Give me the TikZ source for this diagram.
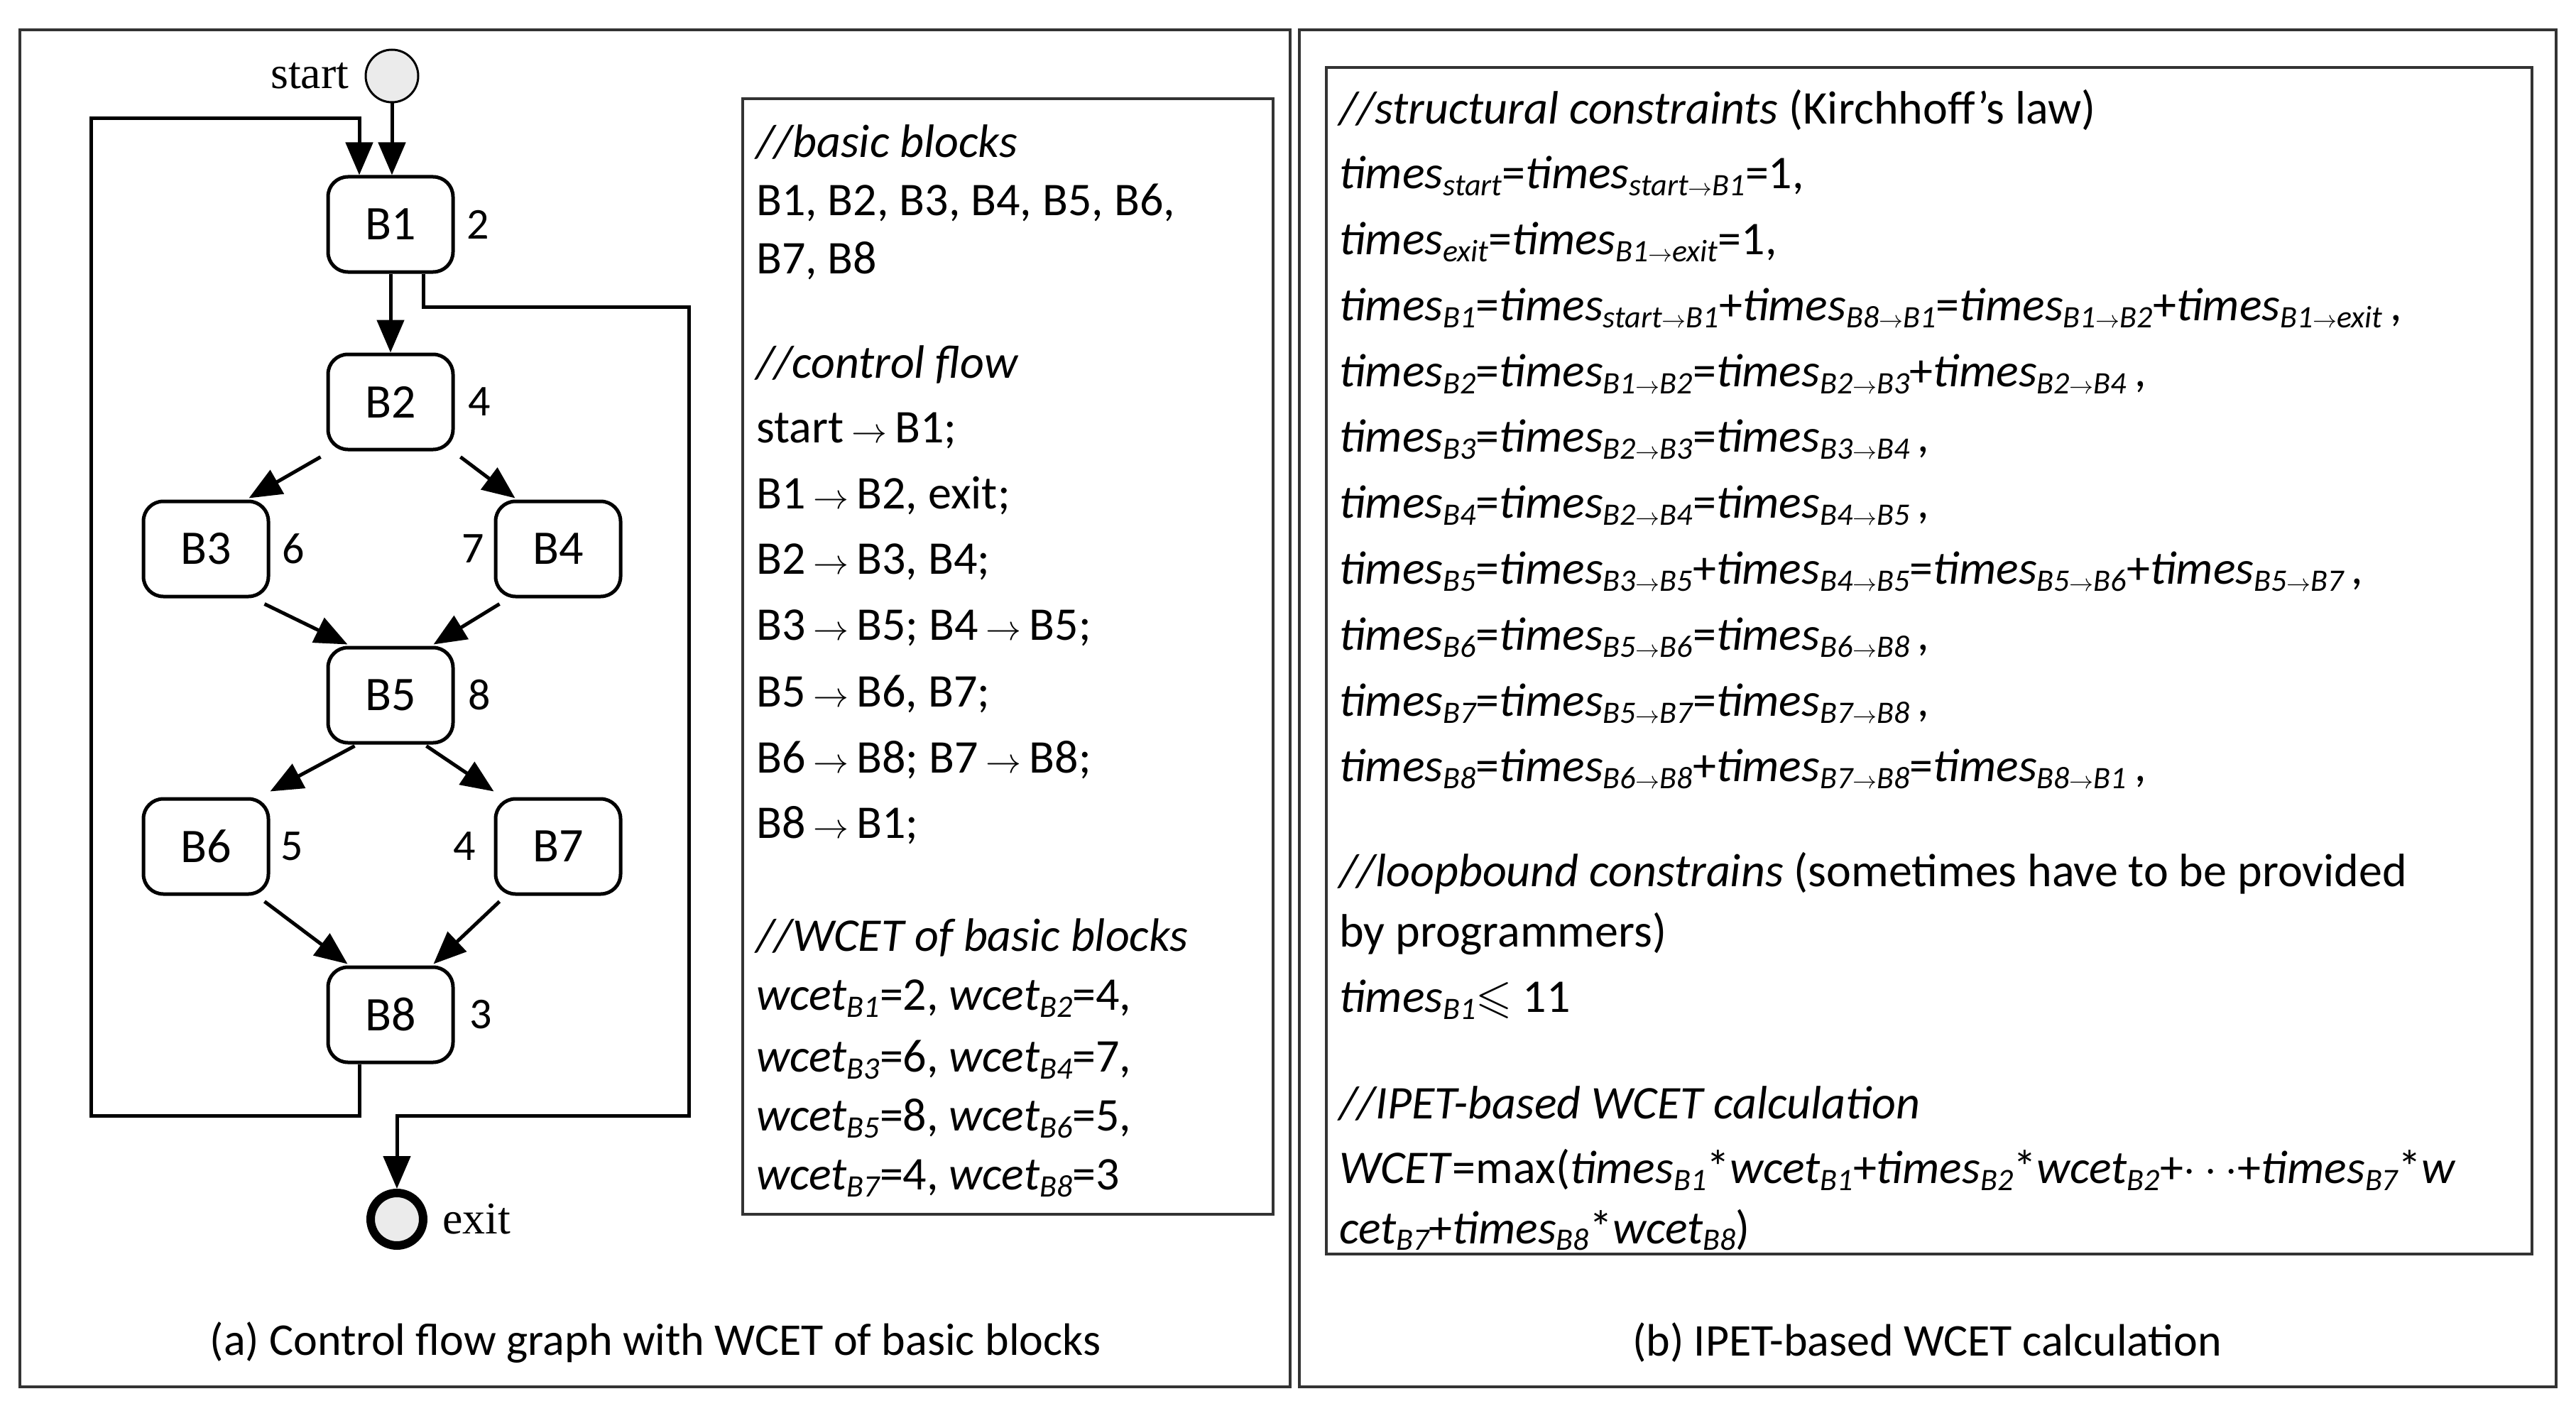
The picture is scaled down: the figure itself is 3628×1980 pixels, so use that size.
\RequirePackage{fix-cm}
\documentclass[tikz,border=0pt]{standalone}
\usepackage{amssymb}
\usepackage{fontspec}
\setmainfont{Carlito}
\newfontfamily\serifx{Liberation Serif}
\usetikzlibrary{arrows.meta}
\newcommand\lo[1]{\raisebox{-0.15em}{\fontsize{44}{44}\selectfont\itshape #1}}
\newcommand\ar{\,{\fontsize{50}{50}\selectfont$\rightarrow$}\,}
\newcommand\sar{{\fontsize{34}{34}\selectfont$\rightarrow$}}
\begin{document}
\begin{tikzpicture}[x=1pt,y=-1pt,
  blk/.style={draw,line width=5pt,rounded corners=28pt,minimum width=176pt,minimum height=134pt,font=\fontsize{68}{68}\selectfont,inner sep=0pt},
  lab/.style={font=\fontsize{62}{62}\selectfont},
  ln/.style={anchor=west,font=\fontsize{66}{66}\selectfont,inner sep=0pt},
  fr/.style={line width=4pt,draw=black!80},
  e/.style={line width=5pt,-{Triangle[length=46pt,width=38pt]}}]
\useasboundingbox (0,0) rectangle (3628,1980);
% frames
\draw[fr] (28,42) rectangle (1817,1953);
\draw[fr] (1830,42) rectangle (3600,1953);
\draw[fr] (1868,95) rectangle (3566,1766);
\draw[fr] (1046,139) rectangle (1793,1710);
% nodes
\node[circle,draw,line width=3pt,fill=black!8,minimum size=74pt,inner sep=0pt] (st) at (552,107) {};
\node[anchor=east,font=\serifx\fontsize{64}{64}\selectfont] (stl) at (495,107) {start};
\node[circle,draw,line width=12pt,fill=black!8,minimum size=74pt,inner sep=0pt] (ex) at (559,1717) {};
\node[anchor=west,font=\serifx\fontsize{64}{64}\selectfont] (exl) at (620,1717) {exit};
\node[blk] (B1) at (550,316) {B1};
\node[blk] (B2) at (550,566) {B2};
\node[blk] (B3) at (290,773) {B3};
\node[blk] (B4) at (786,773) {B4};
\node[blk] (B5) at (550,979) {B5};
\node[blk] (B6) at (290,1192) {B6};
\node[blk] (B7) at (786,1192) {B7};
\node[blk] (B8) at (550,1429) {B8};
\node[lab] (l1) at (673,316) {2};
\node[lab] (l2) at (675,566) {4};
\node[lab] (l3) at (413,773) {6};
\node[lab] (l4) at (666,773) {7};
\node[lab] (l5) at (675,979) {8};
\node[lab] (l6) at (411,1192) {5};
\node[lab] (l7) at (654,1192) {4};
\node[lab] (l8) at (677,1429) {3};
% edges
\draw[e] (st) -- (st|-B1.north);
\draw[e] (B1) -- (B2);
\draw[e] ([xshift=-8pt,yshift=-8pt]B2.south west) -- ([xshift=-30pt,yshift=2pt]B3.north east);
\draw[e] ([xshift=8pt,yshift=-8pt]B2.south east) -- ([xshift=30pt,yshift=2pt]B4.north west);
\draw[e] ([xshift=-8pt,yshift=-8pt]B3.south east) -- ([xshift=30pt,yshift=2pt]B5.north west);
\draw[e] ([xshift=8pt,yshift=-8pt]B4.south west) -- ([xshift=-30pt,yshift=2pt]B5.north east);
\draw[e] ([xshift=40pt,yshift=-2pt]B5.south west) -- ([xshift=0pt,yshift=8pt]B6.north east);
\draw[e] ([xshift=-40pt,yshift=-2pt]B5.south east) -- ([xshift=0pt,yshift=8pt]B7.north west);
\draw[e] ([xshift=-8pt,yshift=-8pt]B6.south east) -- ([xshift=30pt,yshift=2pt]B8.north west);
\draw[e] ([xshift=8pt,yshift=-8pt]B7.south west) -- ([xshift=-30pt,yshift=2pt]B8.north east);
\coordinate (c1) at (506,1571);
\coordinate (c2) at (128,1571);
\coordinate (c3) at (128,167);
\coordinate (c4) at (506,167);
\draw[e] (B8.south-|c1) -- (c1) -- (c2) -- (c3) -- (c4) -- (B1.north-|c4);
\coordinate (d1) at (596,432);
\coordinate (d2) at (970,432);
\coordinate (d3) at (970,1571);
\coordinate (d4) at (559,1571);
\draw[e] (B1.south-|d1) -- (d1) -- (d2) -- (d3) -- (d4) -- (ex.north);
% left text
\node[ln] (t1) at (1065,200) {\textit{//basic blocks}};
\node[ln] (t2) at (1065,285) {B1, B2, B3, B4, B5, B6,};
\node[ln] (t3) at (1065,367) {B7, B8};
\node[ln] (t4) at (1065,513) {\textit{//control flow}};
\node[ln] (t5) at (1065,606) {start\ar B1;};
\node[ln] (t6) at (1065,698) {B1\ar B2, exit;};
\node[ln] (t7) at (1065,791) {B2\ar B3, B4;};
\node[ln] (t8) at (1065,884) {B3\ar B5; B4\ar B5;};
\node[ln] (t9) at (1065,977) {B5\ar B6, B7;};
\node[ln] (t10) at (1065,1070) {B6\ar B8; B7\ar B8;};
\node[ln] (t11) at (1065,1162) {B8\ar B1;};
\node[ln] (t12) at (1065,1320) {\textit{//WCET of basic blocks}};
\node[ln] (t13) at (1065,1406) {\textit{wcet}\lo{B1}=2, \textit{wcet}\lo{B2}=4,};
\node[ln] (t14) at (1065,1492) {\textit{wcet}\lo{B3}=6, \textit{wcet}\lo{B4}=7,};
\node[ln] (t15) at (1065,1575) {\textit{wcet}\lo{B5}=8, \textit{wcet}\lo{B6}=5,};
\node[ln] (t16) at (1065,1659) {\textit{wcet}\lo{B7}=4, \textit{wcet}\lo{B8}=3};
% right text
\def\T{\textit{times}}
\node[ln] (r1) at (1886,155) {\textit{//structural constraints} (Kirchhoff's law)};
\node[ln] (r2) at (1886,248) {\T\lo{start}=\T\lo{start\sar B1}=1,};
\node[ln] (r3) at (1886,341) {\T\lo{exit}=\T\lo{B1\sar exit}=1,};
\node[ln] (r4) at (1886,434) {\T\lo{B1}=\T\lo{start\sar B1}+\T\lo{B8\sar B1}=\T\lo{B1\sar B2}+\T\lo{B1\sar exit}\,,};
\node[ln] (r5) at (1886,527) {\T\lo{B2}=\T\lo{B1\sar B2}=\T\lo{B2\sar B3}+\T\lo{B2\sar B4}\,,};
\node[ln] (r6) at (1886,619) {\T\lo{B3}=\T\lo{B2\sar B3}=\T\lo{B3\sar B4}\,,};
\node[ln] (r7) at (1886,712) {\T\lo{B4}=\T\lo{B2\sar B4}=\T\lo{B4\sar B5}\,,};
\node[ln] (r8) at (1886,805) {\T\lo{B5}=\T\lo{B3\sar B5}+\T\lo{B4\sar B5}=\T\lo{B5\sar B6}+\T\lo{B5\sar B7}\,,};
\node[ln] (r9) at (1886,898) {\T\lo{B6}=\T\lo{B5\sar B6}=\T\lo{B6\sar B8}\,,};
\node[ln] (r10) at (1886,991) {\T\lo{B7}=\T\lo{B5\sar B7}=\T\lo{B7\sar B8}\,,};
\node[ln] (r11) at (1886,1083) {\T\lo{B8}=\T\lo{B6\sar B8}+\T\lo{B7\sar B8}=\T\lo{B8\sar B1}\,,};
\node[ln] (r12) at (1886,1230) {\textit{//loopbound constrains} (sometimes have to be provided};
\node[ln] (r13) at (1886,1315) {by programmers)};
\node[ln] (r14) at (1886,1408) {\T\lo{B1}$\leqslant$ 11};
\node[ln] (r15) at (1886,1554) {\textit{//IPET-based WCET calculation}};
\node[ln] (r16) at (1886,1647) {\textit{WCET}=max(\T\lo{B1}*\textit{wcet}\lo{B1}+\T\lo{B2}*\textit{wcet}\lo{B2}+$\cdots$+\T\lo{B7}*\textit{w}};
\node[ln] (r17) at (1886,1732) {\textit{cet}\lo{B7}+\T\lo{B8}*\textit{wcet}\lo{B8})};
% captions
\node[font=\fontsize{64}{64}\selectfont] (ca) at (923,1891) {(a) Control flow graph with WCET of basic blocks};
\node[font=\fontsize{64}{64}\selectfont] (cb) at (2714,1891) {(b) IPET-based WCET calculation};
\end{tikzpicture}
\end{document}
